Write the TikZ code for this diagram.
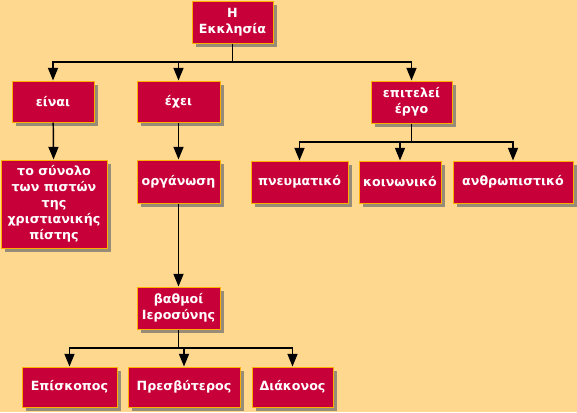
\documentclass[tikz,border=0pt]{standalone}
\usepackage{fontspec}
\setmainfont{DejaVu Sans}
\usetikzlibrary{arrows.meta,shadows}

\definecolor{pagebg}{RGB}{255,216,144}
\definecolor{boxred}{RGB}{200,0,58}
\definecolor{boxrim}{RGB}{255,175,0}
\definecolor{boxshade}{RGB}{150,140,120}

\tikzset{every picture/.style={line width=0.75pt}}
\tikzset{
  redbox/.style={draw=boxrim, fill=boxred, text=white, align=center, inner sep=1pt,
    font=\bfseries\fontsize{9.5}{12}\selectfont,
    drop shadow={shadow xshift=3pt, shadow yshift=-3pt, fill=boxshade, opacity=1}},
  link/.style={line width=1.1pt},
  arrowlink/.style={link, -{Triangle[length=9.5pt,width=7.5pt]}}
}

\begin{document}
\begin{tikzpicture}[x=0.75pt,y=0.75pt,yscale=-1,xscale=1]
%background
\fill[pagebg] (0,0) rectangle (577,412);
\useasboundingbox (0,0) rectangle (577,412);

%Shape: Rectangle [church]
\node[redbox, minimum width=60.75pt, minimum height=31.5pt] (church) at (232.5,22) {Η\\Εκκλησία};
%Shape: Rectangle [is]
\node[redbox, minimum width=61.5pt, minimum height=30.75pt] (einai) at (53,101.5) {είναι};
%Shape: Rectangle [has]
\node[redbox, minimum width=62.25pt, minimum height=30.75pt] (echei) at (178.5,101.5) {έχει};
%Shape: Rectangle [does work]
\node[redbox, minimum width=60.75pt, minimum height=31.5pt] (ergo) at (411.5,102) {επιτελεί\\έργο};
%Shape: Rectangle [faithful]
\node[redbox, minimum width=79.5pt, minimum height=66pt] (synolo) at (54,204) {το σύνολο\\των πιστών\\της\\χριστιανικής\\πίστης};
%Shape: Rectangle [organisation]
\node[redbox, minimum width=62.25pt, minimum height=32.25pt] (organosi) at (178.5,181.5) {οργάνωση};
%Shape: Rectangle [spiritual]
\node[redbox, minimum width=72.75pt, minimum height=31.5pt] (pneuma) at (299.5,182) {πνευματικό};
%Shape: Rectangle [social]
\node[redbox, minimum width=61.5pt, minimum height=31.5pt] (koino) at (400,182) {κοινωνικό};
%Shape: Rectangle [humanitarian]
\node[redbox, minimum width=90pt, minimum height=31.5pt] (anthro) at (513,182) {ανθρωπιστικό};
%Shape: Rectangle [ranks]
\node[redbox, minimum width=62.25pt, minimum height=31.5pt] (vathmoi) at (178.5,308) {βαθμοί\\Ιεροσύνης};
%Shape: Rectangle [bishop]
\node[redbox, minimum width=71.25pt, minimum height=30pt] (episk) at (69.5,387) {Επίσκοπος};
%Shape: Rectangle [priest]
\node[redbox, minimum width=84pt, minimum height=30pt] (presv) at (184,387) {Πρεσβύτερος};
%Shape: Rectangle [deacon]
\node[redbox, minimum width=60.75pt, minimum height=30pt] (diak) at (292.5,387) {Διάκονος};

%branch points
\coordinate (top) at (232.5,62);
\coordinate (right) at (411.5,142);
\coordinate (bottom) at (178.5,348);

%Straight Lines
\draw[link] (church) -- (top);
\draw[arrowlink] (top) -| (einai);
\draw[arrowlink] (top) -| (echei);
\draw[arrowlink] (top) -| (ergo);
\draw[arrowlink] (einai) -- (synolo);
\draw[arrowlink] (echei) -- (organosi);
\draw[arrowlink] (organosi) -- (vathmoi);
\draw[link] (ergo) -- (right);
\draw[arrowlink] (right) -| (pneuma);
\draw[arrowlink] (right) -| (koino);
\draw[arrowlink] (right) -| (anthro);
\draw[link] (vathmoi) -- (bottom);
\draw[arrowlink] (bottom) -| (episk);
\draw[arrowlink] (bottom) -| (presv);
\draw[arrowlink] (bottom) -| (diak);

\end{tikzpicture}
\end{document}
